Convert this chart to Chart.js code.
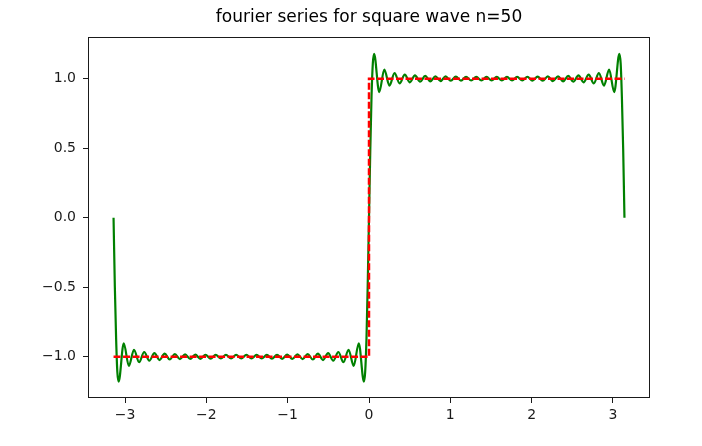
<!DOCTYPE html>
<html>
<head>
<meta charset="utf-8">
<script src="https://cdn.jsdelivr.net/npm/chart.js@4/dist/chart.umd.min.js"></script>
<style>
  html, body { margin: 0; padding: 0; background: #ffffff; }
  #wrap { width: 702px; height: 446px; }
</style>
</head>
<body>
<div id="wrap"><canvas id="c" width="702" height="446"></canvas></div>
<script>
// ---- data ----
const titleText = "fourier series for square wave n=50";

// Fourier partial sum (green), x < 0 part
const leftX = [-3.1416, -3.126, -3.110, -3.095, -3.0788, -3.0159, -2.9531, -2.8903, -2.8274, -2.7646,
  -2.7018, -2.6389, -2.5761, -2.5133, -2.4504, -2.3876, -2.3248, -2.2619, -2.1991, -2.1363,
  -2.0735, -2.0106, -1.9478, -1.8850, -1.8221, -1.7593, -1.6965, -1.6336, -1.5708, -1.5080,
  -1.4451, -1.3823, -1.3195, -1.2566, -1.1938, -1.1310, -1.0681, -1.0053, -0.9425, -0.8796,
  -0.8168, -0.7540, -0.6912, -0.6283, -0.5655, -0.5027, -0.4398, -0.3770, -0.3142, -0.2513,
  -0.1885, -0.1257, -0.0628, -0.047, -0.031, -0.016];
const leftY = [0, -0.49, -0.87, -1.11, -1.179, -0.903, -1.066, -0.950, -1.040, -0.966,
  -1.029, -0.974, -1.024, -0.978, -1.020, -0.981, -1.017, -0.983, -1.016, -0.985,
  -1.015, -0.986, -1.014, -0.987, -1.013, -0.987, -1.013, -0.987, -1.013, -0.987,
  -1.013, -0.987, -1.013, -0.987, -1.014, -0.986, -1.015, -0.985, -1.016, -0.983,
  -1.017, -0.981, -1.020, -0.978, -1.024, -0.974, -1.029, -0.966, -1.040, -0.950,
  -1.066, -0.903, -1.179, -1.11, -0.87, -0.49];

// Fourier partial sum (green), x >= 0 part
const rightX = [0, 0.016, 0.031, 0.047, 0.0628, 0.1257, 0.1885, 0.2513, 0.3142, 0.3770,
  0.4398, 0.5027, 0.5655, 0.6283, 0.6912, 0.7540, 0.8168, 0.8796, 0.9425, 1.0053,
  1.0681, 1.1310, 1.1938, 1.2566, 1.3195, 1.3823, 1.4451, 1.5080, 1.5708, 1.6336,
  1.6965, 1.7593, 1.8221, 1.8850, 1.9478, 2.0106, 2.0735, 2.1363, 2.1991, 2.2619,
  2.3248, 2.3876, 2.4504, 2.5133, 2.5761, 2.6389, 2.7018, 2.7646, 2.8274, 2.8903,
  2.9531, 3.0159, 3.0788, 3.095, 3.110, 3.126, 3.1416];
const rightY = [0, 0.49, 0.87, 1.11, 1.179, 0.903, 1.066, 0.950, 1.040, 0.966,
  1.029, 0.974, 1.024, 0.978, 1.020, 0.981, 1.017, 0.983, 1.016, 0.985,
  1.015, 0.986, 1.014, 0.987, 1.013, 0.987, 1.013, 0.987, 1.013, 0.987,
  1.013, 0.987, 1.013, 0.987, 1.014, 0.986, 1.015, 0.985, 1.016, 0.983,
  1.017, 0.981, 1.020, 0.978, 1.024, 0.974, 1.029, 0.966, 1.040, 0.950,
  1.066, 0.903, 1.179, 1.11, 0.87, 0.49, 0];

// ideal square wave (red dashed)
const squareX = [-3.1416, 0, 0, 3.1416];
const squareY = [-1, -1, 1, 1];

// axis ticks and limits
const xTicks = [-3, -2, -1, 0, 1, 2, 3];
const yTicks = [-1.0, -0.5, 0.0, 0.5, 1.0];
const xLimits = [-3.4558, 3.4558];
const yLimits = [-1.297, 1.297];

// ---- build chart ----
const toPts = (xs, ys) => xs.map((x, i) => ({ x: x, y: ys[i] }));
const wavePts = toPts(leftX, leftY).concat(toPts(rightX, rightY));
const squarePts = toPts(squareX, squareY);
const fmt = (v, d) => v.toFixed(d).replace('-', '\u2212');

const framePlugin = {
  id: 'frame',
  afterDatasetsDraw(chart) {
    const a = chart.chartArea, ctx = chart.ctx;
    ctx.save();
    ctx.strokeStyle = '#1a1a1a';
    ctx.lineWidth = 1;
    ctx.strokeRect(Math.round(a.left) + 0.5, Math.round(a.top) + 0.5,
      Math.round(a.right - a.left) - 1, Math.round(a.bottom - a.top) - 1);
    ctx.restore();
  }
};

Chart.defaults.font.family = "'DejaVu Sans', sans-serif";

new Chart(document.getElementById('c'), {
  type: 'line',
  data: {
    datasets: [
      {
        data: squarePts,
        borderColor: '#ff0000',
        borderWidth: 2.5,
        borderDash: [7, 2.5],
        pointRadius: 0,
        tension: 0,
        fill: false,
        order: 0
      },
      {
        data: wavePts,
        borderColor: '#008000',
        borderWidth: 2.2,
        pointRadius: 0,
        cubicInterpolationMode: 'monotone',
        fill: false,
        order: 1
      }
    ]
  },
  options: {
    responsive: false,
    animation: false,
    devicePixelRatio: 1,
    layout: { padding: { left: 0, right: 52, top: 0, bottom: 0 } },
    plugins: {
      legend: { display: false },
      tooltip: { enabled: false },
      title: {
        display: true,
        text: titleText,
        fullSize: false,
        color: '#000',
        font: { size: 17, weight: 'normal', family: "'DejaVu Sans', sans-serif" },
        padding: { top: 7, bottom: 10 }
      }
    },
    scales: {
      x: {
        type: 'linear',
        min: xLimits[0],
        max: xLimits[1],
        afterBuildTicks: s => { s.ticks = xTicks.map(v => ({ value: v })); },
        afterFit: s => { s.height = 48; },
        grid: { drawOnChartArea: false, drawTicks: true, tickLength: 5, tickColor: '#1a1a1a', tickWidth: 1 },
        border: { display: false },
        ticks: {
          color: '#1a1a1a',
          font: { size: 14 },
          padding: 4,
          maxRotation: 0,
          callback: v => fmt(v, 0)
        }
      },
      y: {
        type: 'linear',
        min: yLimits[0],
        max: yLimits[1],
        afterBuildTicks: s => { s.ticks = yTicks.map(v => ({ value: v })); },
        afterFit: s => { s.width = 88; },
        grid: { drawOnChartArea: false, drawTicks: true, tickLength: 5, tickColor: '#1a1a1a', tickWidth: 1 },
        border: { display: false },
        ticks: {
          color: '#1a1a1a',
          font: { size: 14 },
          padding: 7,
          callback: v => fmt(v, 1)
        }
      }
    }
  },
  plugins: [framePlugin]
});
</script>
</body>
</html>
